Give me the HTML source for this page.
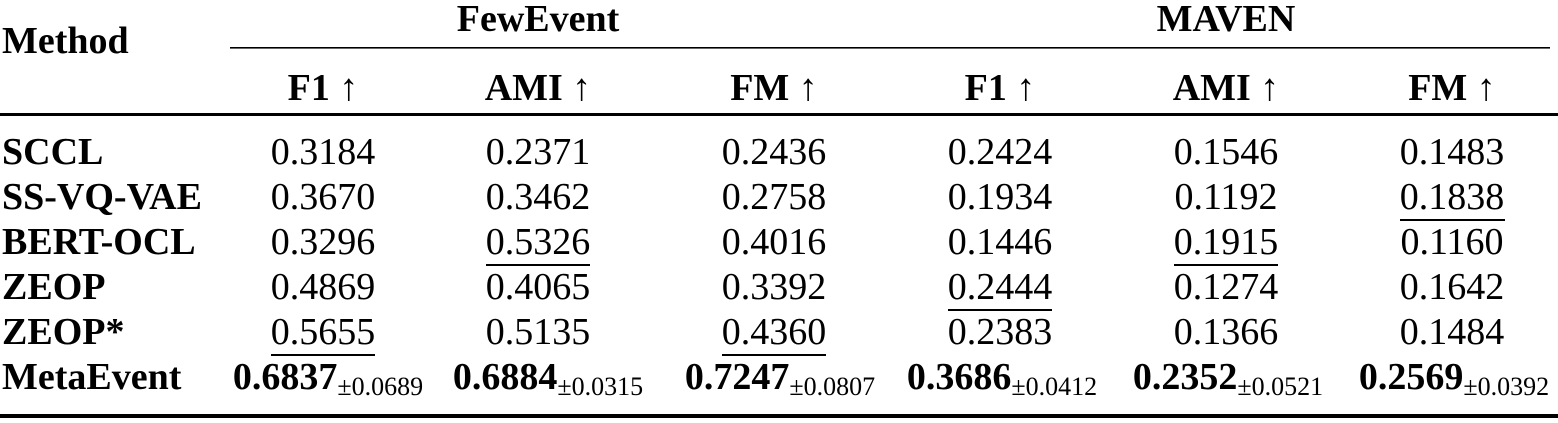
<!DOCTYPE html>
<html><head><meta charset="utf-8"><style>
html,body{margin:0;padding:0;background:#fff;}
svg{display:block;}
text{font-family:"Liberation Serif",serif;fill:#000;}
.b{font-weight:bold;}
.s{font-size:26px;font-weight:normal;}
</style></head><body>
<svg width="1558" height="423" viewBox="0 0 1558 423" xmlns="http://www.w3.org/2000/svg" font-size="38">
<text x="2" y="53" class="b">Method</text>
<text x="538" y="31" class="b" text-anchor="middle">FewEvent</text>
<text x="1226" y="31" class="b" text-anchor="middle">MAVEN</text>
<rect x="230" y="47" width="1320" height="1.6" fill="#000"/>
<g text-anchor="middle">
<text x="323" y="100"><tspan class="b">F1</tspan> ↑</text>
<text x="538" y="100"><tspan class="b">AMI</tspan> ↑</text>
<text x="774" y="100"><tspan class="b">FM</tspan> ↑</text>
<text x="1000" y="100"><tspan class="b">F1</tspan> ↑</text>
<text x="1226" y="100"><tspan class="b">AMI</tspan> ↑</text>
<text x="1452" y="100"><tspan class="b">FM</tspan> ↑</text>
</g>
<rect x="0" y="113" width="1558" height="3" fill="#000"/>
<g class="b">
<text x="2" y="164">SCCL</text>
<text x="2" y="209">SS-VQ-VAE</text>
<text x="2" y="254">BERT-OCL</text>
<text x="2" y="299">ZEOP</text>
<text x="2" y="344">ZEOP*</text>
<text x="2" y="389">MetaEvent</text>
</g>
<g text-anchor="middle">
<text x="323" y="164">0.3184</text><text x="538" y="164">0.2371</text><text x="774" y="164">0.2436</text><text x="1000" y="164">0.2424</text><text x="1226" y="164">0.1546</text><text x="1452" y="164">0.1483</text>
<text x="323" y="209">0.3670</text><text x="538" y="209">0.3462</text><text x="774" y="209">0.2758</text><text x="1000" y="209">0.1934</text><text x="1226" y="209">0.1192</text><text x="1452" y="209">0.1838</text>
<text x="323" y="254">0.3296</text><text x="538" y="254">0.5326</text><text x="774" y="254">0.4016</text><text x="1000" y="254">0.1446</text><text x="1226" y="254">0.1915</text><text x="1452" y="254">0.1160</text>
<text x="323" y="299">0.4869</text><text x="538" y="299">0.4065</text><text x="774" y="299">0.3392</text><text x="1000" y="299">0.2444</text><text x="1226" y="299">0.1274</text><text x="1452" y="299">0.1642</text>
<text x="323" y="344">0.5655</text><text x="538" y="344">0.5135</text><text x="774" y="344">0.4360</text><text x="1000" y="344">0.2383</text><text x="1226" y="344">0.1366</text><text x="1452" y="344">0.1484</text>
<text x="328" y="389"><tspan class="b">0.6837</tspan><tspan class="s" dy="6">±0.0689</tspan></text>
<text x="548" y="389"><tspan class="b">0.6884</tspan><tspan class="s" dy="6">±0.0315</tspan></text>
<text x="780" y="389"><tspan class="b">0.7247</tspan><tspan class="s" dy="6">±0.0807</tspan></text>
<text x="1002" y="389"><tspan class="b">0.3686</tspan><tspan class="s" dy="6">±0.0412</tspan></text>
<text x="1228" y="389"><tspan class="b">0.2352</tspan><tspan class="s" dy="6">±0.0521</tspan></text>
<text x="1454" y="389"><tspan class="b">0.2569</tspan><tspan class="s" dy="6">±0.0392</tspan></text>
</g>
<g fill="#000">
<rect x="1400" y="219" width="105" height="2"/>
<rect x="486" y="264" width="104" height="2"/>
<rect x="1174" y="264" width="104" height="2"/>
<rect x="948" y="309" width="104" height="2"/>
<rect x="271" y="354" width="104" height="2"/>
<rect x="722" y="354" width="104" height="2"/>
</g>
<rect x="0" y="414" width="1558" height="4" fill="#000"/>
</svg>
</body></html>
